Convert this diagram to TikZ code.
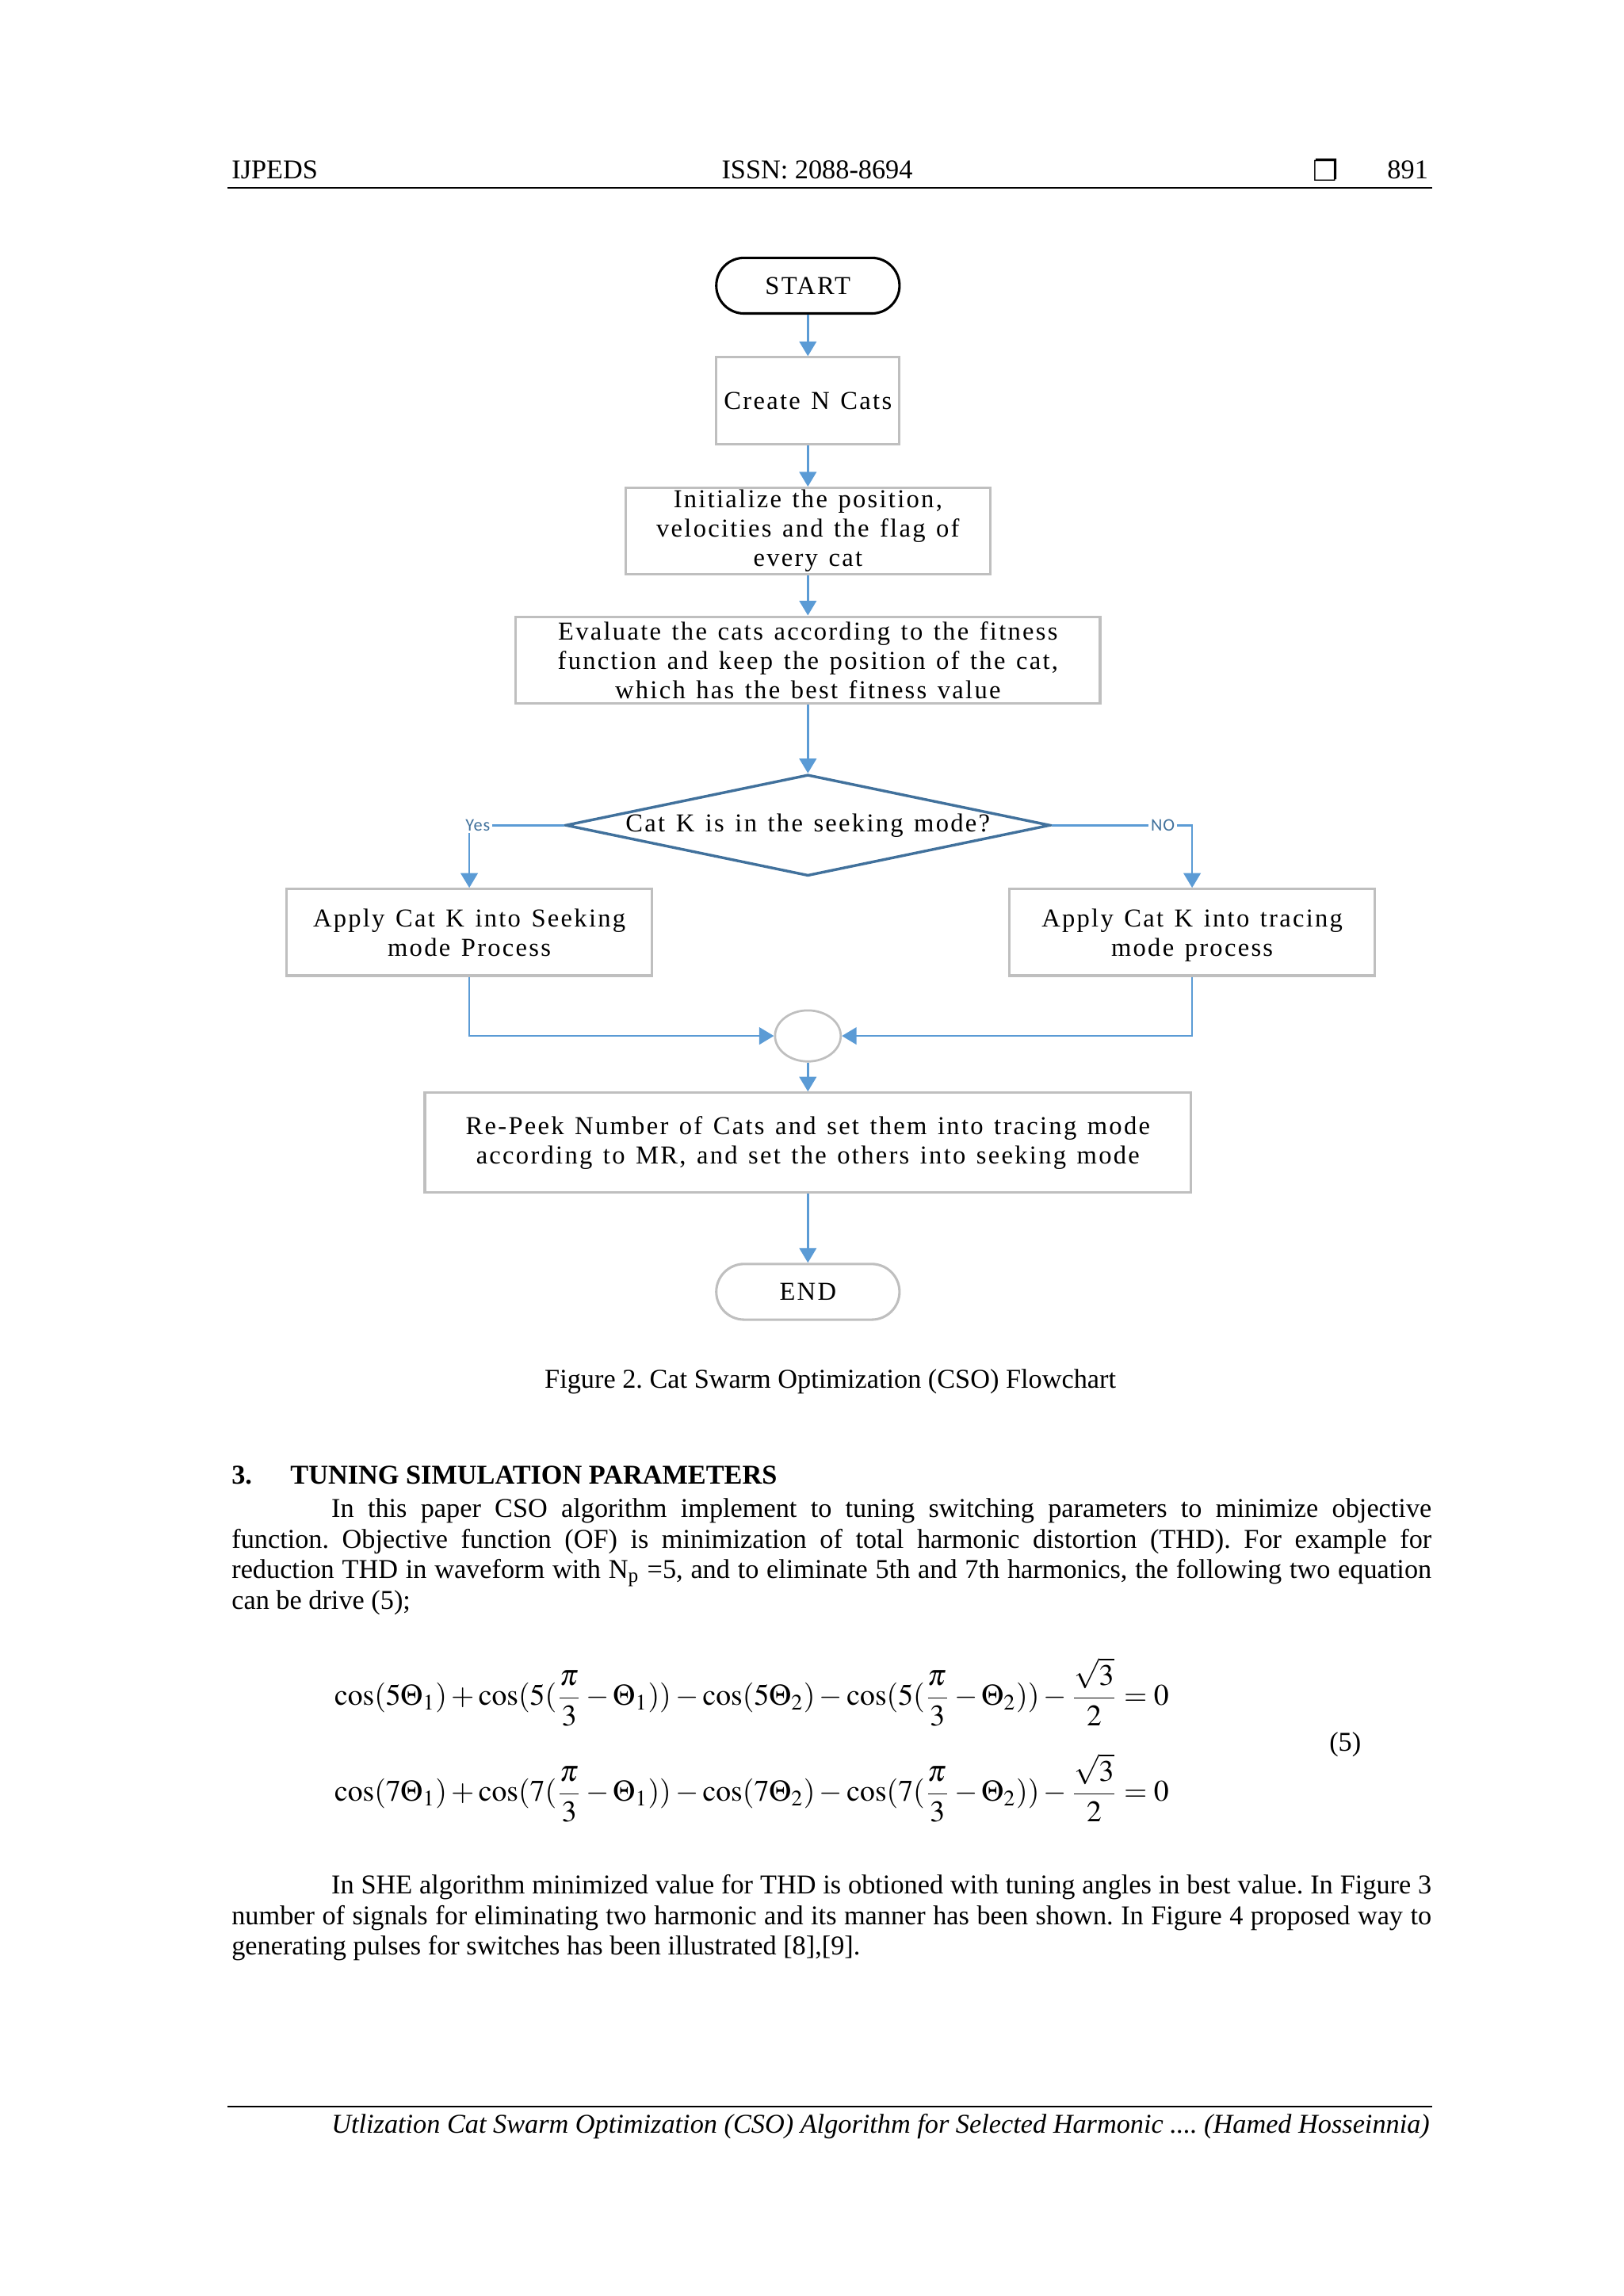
\documentclass[tikz,border=0pt]{standalone}
\usepackage{mathptmx}
\usepackage[no-math]{fontspec}
\setmainfont{Liberation Serif}
\newfontfamily\chartfont[LetterSpace=7, WordSpace=1.3]{Liberation Serif}
\newfontfamily\tagfont[LetterSpace=4]{Carlito}
\newfontfamily\dingfont{DejaVu Sans}
\usetikzlibrary{arrows.meta, positioning, shapes.geometric}
\usepackage{xcolor}
\definecolor{flowblue}{HTML}{5B9BD5}
\definecolor{edgeblue}{HTML}{41719C}
\definecolor{boxgray}{HTML}{BFBFBF}
\def\chartsize{\fontsize{9.5}{10.8}\selectfont}
\def\textsize{\fontsize{10}{11.3}\selectfont}
\def\fullline#1{\makebox[15.52cm][s]{\spaceskip=0pt\xspaceskip=0pt #1}}
\frenchspacing

\begin{document}
\begin{tikzpicture}[>={Triangle[width=2.2mm,length=1.9mm]}]
    \tikzstyle{chart}=[font=\chartfont\chartsize, align=center, inner sep=0pt]
    \tikzstyle{terminal}=[chart, rectangle, rounded corners=3.6mm, minimum width=2.37cm, minimum height=0.72cm, draw=black, line width=0.9pt]
    \tikzstyle{process}=[chart, rectangle, draw=boxgray, line width=0.9pt, minimum height=1.12cm]
    \tikzstyle{decision}=[chart, diamond, aspect=4.8, inner xsep=-0.4cm, draw=edgeblue, line width=1pt, minimum width=6.27cm, minimum height=1.31cm]
    \tikzstyle{flow}=[->, draw=flowblue, line width=0.8pt]
    \tikzstyle{answer}=[font=\tagfont\fontsize{6.5}{7}\selectfont, text=edgeblue, inner sep=0.6pt]
    \tikzstyle{page}=[font=\textsize, inner sep=0pt]
    \tikzstyle{eqn}=[font=\fontsize{11}{13}\selectfont, inner sep=0pt, anchor=base west]

    \useasboundingbox (0,0) rectangle (21,-29.7);

    % running head
    \node[page, anchor=west] (journal) at (2.99,-2.2) {IJPEDS};
    \node[page] (issn) at (10.57,-2.2) {ISSN: 2088-8694};
    \node[page, font=\dingfont\fontsize{10.5}{12}\selectfont] (mark) at (17.15,-2.2) {❐};
    \node[page, anchor=east] (pageno) at (18.48,-2.2) {891};
    \coordinate (head-l) at (2.94,-2.43);
    \coordinate (head-r) at (18.53,-2.43);
    \draw[line width=0.8pt] (head-l) -- (head-r);

    % flowchart
    \node[terminal] (start) at (10.45,-3.695) {START};
    \node[process, minimum width=2.37cm] (create) at (10.45,-5.183) {Create N Cats};
    \node[process, minimum width=4.72cm] (init) at (10.45,-6.87) {Initialize the position,\\velocities and the flag of\\every cat};
    \node[process, minimum width=7.56cm] (eval) at (10.45,-8.537) {Evaluate the cats according to the fitness\\function and keep the position of the cat,\\which has the best fitness value};
    \node[decision] (mode) at (10.45,-10.675) {Cat K is in the seeking mode?};
    \node[answer] (yes) at (6.18,-10.675) {Yes};
    \node[answer] (no) at (15.04,-10.675) {NO};
    \node[process, minimum width=4.72cm] (seek) at (6.07,-12.06) {Apply Cat K into Seeking\\mode Process};
    \node[process, minimum width=4.72cm] (trace) at (15.42,-12.06) {Apply Cat K into tracing\\\raisebox{0pt}[\height][0pt]{mode process}};
    \node[ellipse, draw=boxgray, line width=0.8pt, minimum width=0.85cm, minimum height=0.66cm, inner sep=0pt] (join) at (10.45,-13.40) {};
    \node[process, minimum width=9.91cm, minimum height=1.29cm] (repeek) at (10.45,-14.78) {Re-Peek Number of Cats and set them into tracing mode\\according to MR, and set the others into seeking mode};
    \node[terminal, draw=boxgray] (end) at (10.45,-16.71) {END};

    \draw[flow] (start) -- (create);
    \draw[flow] (create) -- (init);
    \draw[flow] (init) -- (eval);
    \draw[flow] (eval) -- (mode);
    \draw[flow, -] (mode.west) -- (yes.east);
    \draw[flow] (yes.south -| seek.north) -- (seek.north);
    \draw[flow, -] (mode.east) -- (no.west);
    \draw[flow] (no.east) -| (trace.north);
    \draw[flow] (seek.south) |- (join.west);
    \draw[flow] (trace.south) |- (join.east);
    \draw[flow] (join) -- (repeek);
    \draw[flow] (repeek) -- (end);

    \node[page] (caption) at (10.74,-17.87) {Figure 2. Cat Swarm Optimization (CSO) Flowchart};

    % section text
    \node[page, font=\textsize\bfseries, anchor=west] (secno) at (2.99,-19.08) {3.};
    \node[page, font=\textsize\bfseries, anchor=west] (sectitle) at (3.75,-19.08) {TUNING SIMULATION PARAMETERS};
    \node[page, text width=15.52cm, align=justify, anchor=north west] (para1) at (2.99,-19.34) {%
        \strut\fullline{\hspace*{1.29cm}In this paper CSO algorithm implement to tuning switching parameters to minimize objective}\\
        \fullline{function. Objective function (OF) is minimization of total harmonic distortion (THD). For example for}\\
        \fullline{reduction THD in waveform with N\textsubscript{p} =5, and to eliminate 5th and 7th harmonics, the following two equation}\\
        can be drive (5);};

    \node[eqn] (eq1) at (4.32,-22.06) {$\displaystyle \cos(5\Theta_1)+\cos(5(\frac{\pi}{3}-\Theta_1))-\cos(5\Theta_2)-\cos(5(\frac{\pi}{3}-\Theta_2))-\frac{\sqrt{3}}{2}=0$};
    \node[eqn] (eq2) at (4.32,-23.30) {$\displaystyle \cos(7\Theta_1)+\cos(7(\frac{\pi}{3}-\Theta_1))-\cos(7\Theta_2)-\cos(7(\frac{\pi}{3}-\Theta_2))-\frac{\sqrt{3}}{2}=0$};
    \node[page] (eqno) at (17.40,-22.57) {(5)};

    \node[page, text width=15.52cm, align=justify, anchor=north west] (para2) at (2.99,-24.21) {%
        \strut\fullline{\hspace*{1.29cm}In SHE algorithm minimized value for THD is obtioned with tuning angles in best value. In Figure 3}\\
        \fullline{number of signals for eliminating two harmonic and its manner has been shown. In Figure 4 proposed way to}\\
        generating pulses for switches has been illustrated [8],[9].};

    % running foot
    \coordinate (foot-l) at (2.94,-27.25);
    \coordinate (foot-r) at (18.53,-27.25);
    \draw[line width=0.5pt] (foot-l) -- (foot-r);
    \node[page, font=\textsize\itshape, anchor=east] (footer) at (18.50,-27.51) {Utlization Cat Swarm Optimization (CSO) Algorithm for Selected Harmonic .... (Hamed Hosseinnia)};
\end{tikzpicture}
\end{document}
